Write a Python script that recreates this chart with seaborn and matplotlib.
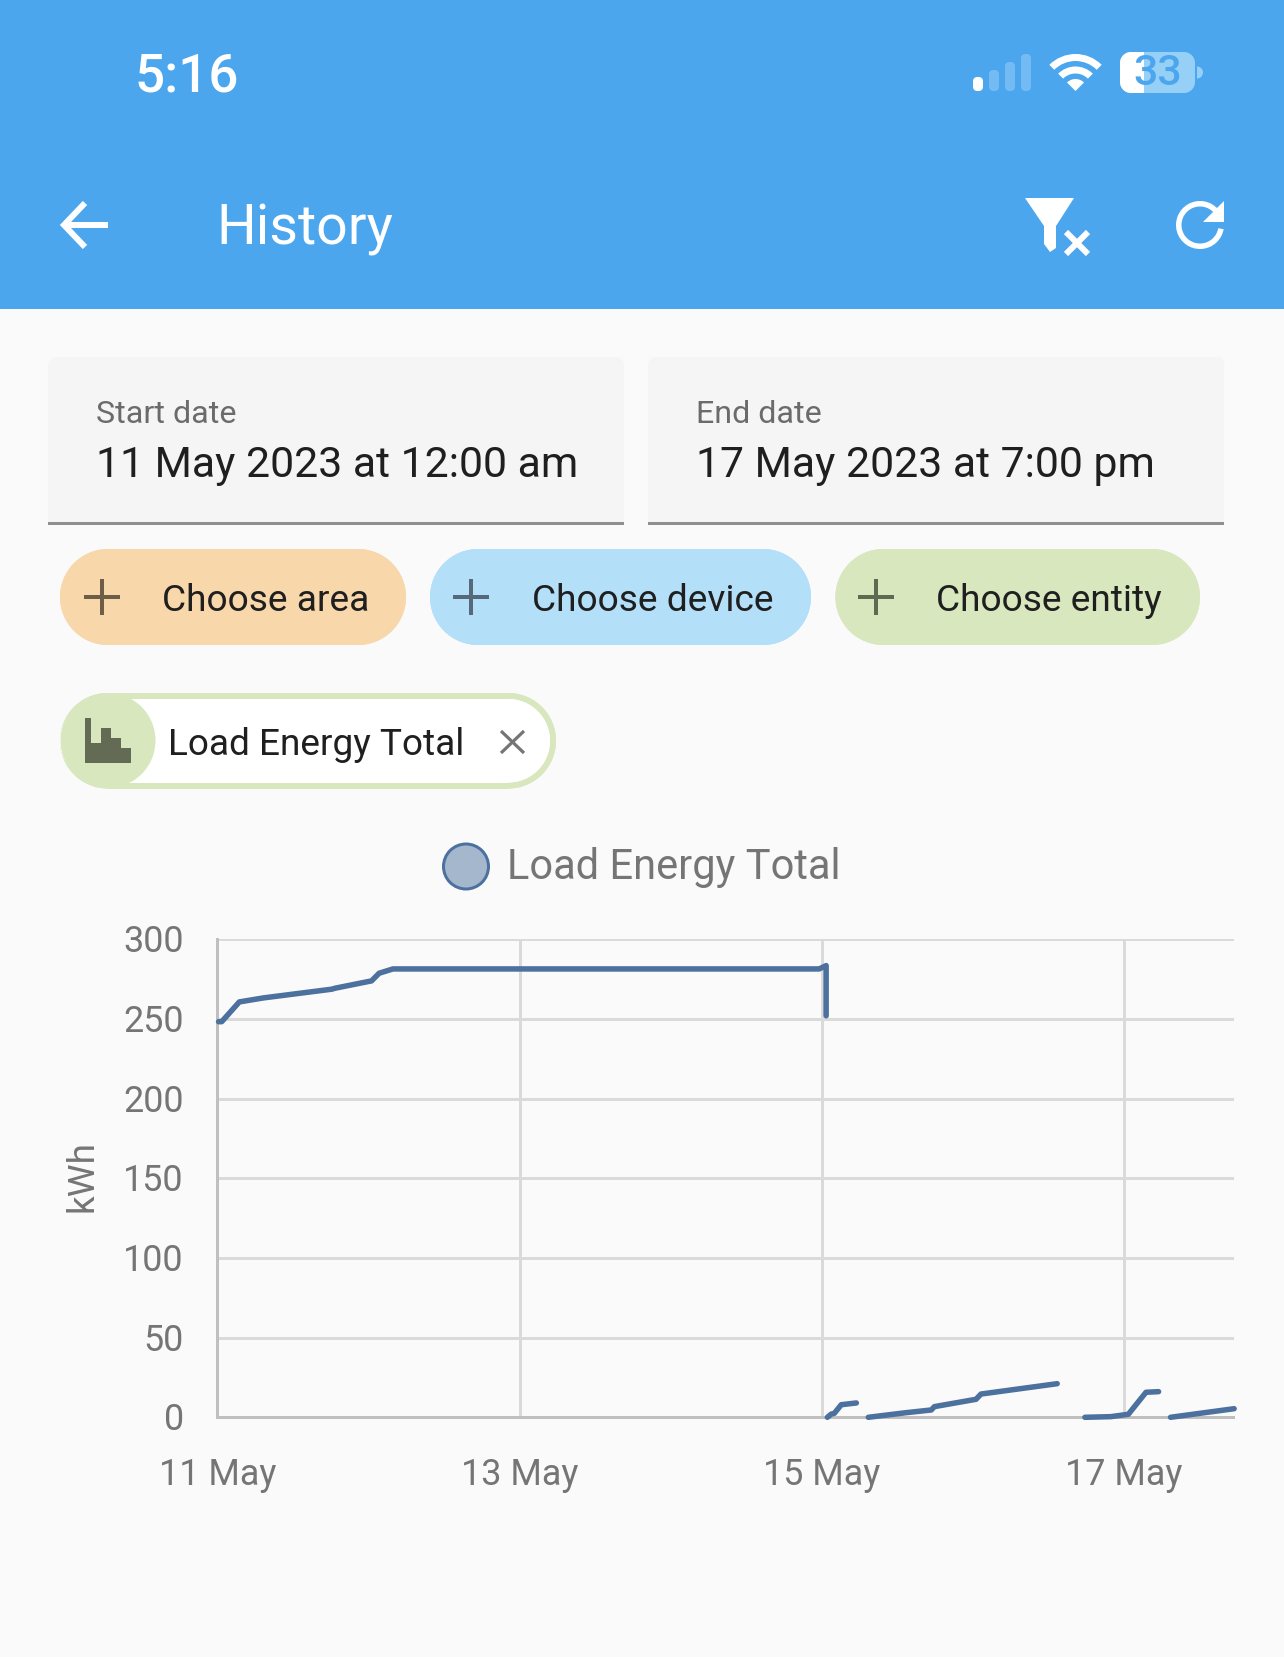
import matplotlib
matplotlib.use("Agg")
import matplotlib.pyplot as plt
from matplotlib.patches import Rectangle, Circle, Wedge, Polygon
from matplotlib.transforms import ScaledTranslation
import pandas as pd
import seaborn as sns

# ---- data ----
series_name = "Load Energy Total"
seg1_hours = [0.2, 0.7, 3.5, 7.3, 18.2, 18.7, 24.5, 25.7, 27.9, 95.6, 96.7, 96.7]
seg1_kwh = [248.3, 248.3, 260.7, 263.2, 268.7, 269.3, 273.9, 278.7, 281.4, 281.4, 283.5, 252.0]
seg2_hours = [96.9, 97.5, 98.0, 99.1, 101.5]
seg2_kwh = [0.0, 2.0, 2.5, 7.9, 9.0]
seg3_hours = [103.4, 109.4, 113.4, 113.9, 120.5, 121.3, 133.4]
seg3_kwh = [0.0, 2.9, 4.6, 6.7, 11.3, 14.6, 21.1]
seg4_hours = [137.8, 141.9, 144.7, 147.5, 149.5]
seg4_kwh = [0.0, 0.4, 1.9, 15.7, 16.1]
seg5_hours = [151.4, 161.5]
seg5_kwh = [0.0, 5.4]
y_ticks = [0, 50, 100, 150, 200, 250, 300]
x_tick_dates = ["2023-05-11", "2023-05-13", "2023-05-15", "2023-05-17"]
x_tick_labels = ["11 May", "13 May", "15 May", "17 May"]
axis_end_hours = 161.4

W, H = 1284, 1657
sns.set_theme(style="whitegrid")
plt.rcParams["font.family"] = ["Roboto", "DejaVu Sans"]

BG = "#FAFAFA"; HEAD = "#4CA6EE"; GRID = "#DADADA"; AXIS = "#BFBFBF"; LABEL = "#757575"; LINE = "#4C719E"
PX = 0.72

fig = plt.figure(figsize=(W / 100, H / 100), dpi=100, facecolor=BG)
ui = fig.add_axes([0, 0, 1, 1], zorder=0)
ui.set_xlim(0, W); ui.set_ylim(H, 0); ui.axis("off")


def T(x, y, s, px, color, ha="left", va="baseline", weight="normal"):
    ui.text(x, y, s, fontsize=px * PX, color=color, ha=ha, va=va, fontweight=weight, zorder=4)


def L(xs, ys, px, color, cap="butt", join="miter"):
    ui.plot(xs, ys, lw=px * PX, color=color, solid_capstyle=cap, solid_joinstyle=join, zorder=4)


def pill(x0, y0, x1, y1, color, r=None, z=1):
    r = (y1 - y0) / 2 if r is None else r
    ui.add_patch(Rectangle((x0 + r, y0), x1 - x0 - 2 * r, y1 - y0, fc=color, ec="none", zorder=z))
    ui.add_patch(Rectangle((x0, y0 + r), x1 - x0, y1 - y0 - 2 * r, fc=color, ec="none", zorder=z))
    for cx in (x0 + r, x1 - r):
        for cy in (y0 + r, y1 - r):
            ui.add_patch(Circle((cx, cy), r, fc=color, ec="none", zorder=z))


# header
ui.add_patch(Rectangle((0, 0), W, 309, fc=HEAD, ec="none"))
T(135, 92, "5:16", 53, "white", weight="medium")
T(216.5, 244, "History", 55.5, "white")
L([108, 65], [225, 225], 6, "white")
L([85, 64, 85], [203, 225, 247], 6, "white")
# funnel + x
ui.add_patch(Polygon([(1025, 198), (1074, 198), (1056, 226), (1056, 248), (1050, 252), (1044, 244), (1044, 226)],
                     fc="white", ec="none", zorder=4))
L([1066, 1088], [232, 254], 6, "white")
L([1088, 1066], [232, 254], 6, "white")
# refresh
ui.add_patch(Wedge((1200, 225), 24, 10, 318, width=5.5, fc="white", ec="none", zorder=4))
ui.add_patch(Polygon([(1224, 201), (1224, 222), (1203, 222)], fc="white", ec="none", zorder=4))
# status bar
for x0, top, col in [(973, 77, "white"), (989, 70, "#74BAF3"), (1005, 62, "#74BAF3"), (1021, 54, "#74BAF3")]:
    pill(x0, top, x0 + 10, 91, col, r=4)
for ro, wd in [(37, 7), (24.5, 7), (12, 12)]:
    ui.add_patch(Wedge((1075.5, 91), ro, 225, 315, width=wd, fc="white", ec="none", zorder=4))
pill(1120, 52, 1195, 93, "#97D0F6", r=11)
pill(1120, 52, 1160, 93, "white", r=11, z=1.1)
ui.add_patch(Rectangle((1144, 52), 30, 41, fc="#97D0F6", ec="none", zorder=1.2))
ui.add_patch(Wedge((1197, 72.5), 6, 270, 90, fc="#97D0F6", ec="none"))
ui.text(1158, 85, "33", fontsize=43 * PX, color=HEAD, ha="center", va="baseline", fontweight="medium", zorder=3)

# date cards
for x0, x1, lab, val in [(48.3, 624, "Start date", "11 May 2023 at 12:00 am"),
                         (648, 1224.4, "End date", "17 May 2023 at 7:00 pm")]:
    pill(x0, 357, x1, 535, "#F5F5F5", r=8)
    ui.add_patch(Rectangle((x0 - 1, 522), x1 - x0 + 2, 16, fc=BG, ec="none", zorder=1.5))
    ui.add_patch(Rectangle((x0, 522), x1 - x0, 3, fc="#8F8F8F", ec="none", zorder=2))
    T(x0 + 47.8, 422.7, lab, 32.3, "#6B6B6B")
    T(x0 + 47.8, 476.7, val, 42.7, "#1F1F1F")

# choice chips
for x0, x1, col, pcol, px_, tx, s in [
    (60, 406, "#F8D7AB", "#6E5E48", 102.4, 162, "Choose area"),
    (430, 811, "#B3DFF9", "#55697A", 471, 532, "Choose device"),
    (835.4, 1200, "#D8E7BD", "#5E6B50", 876, 936, "Choose entity"),
]:
    pill(x0, 549, x1, 645, col)
    L([px_ - 18, px_ + 18], [597, 597], 4, pcol)
    L([px_, px_], [579, 615], 4, pcol)
    T(tx, 610.7, s, 37.1, "#1F1F1F")

# selected chip
pill(60, 693, 556, 788.5, "#D8E7BD")
pill(60, 699, 550, 782.5, "white", z=1.1)
ui.add_patch(Circle((108, 740.5), 47.5, fc="#D8E7BD", ec="none", zorder=1.2))
ui.add_patch(Polygon([(85.3, 763.3), (85.3, 718.3), (90.7, 718.3), (90.7, 743.3), (100.7, 743.3), (100.7, 728.3),
                      (110.7, 728.3), (110.7, 738.3), (120.7, 738.3), (120.7, 748.3), (130.7, 748.3), (130.7, 763.3)],
                     fc="#636B55", ec="none", zorder=2))
T(168, 755, series_name, 37, "#1F1F1F")
L([501, 524], [731, 753], 3.2, LABEL)
L([524, 501], [731, 753], 3.2, LABEL)

# chart legend
ui.add_patch(Circle((466, 866.5), 22.5, fc="#A5B7CD", ec=LINE, lw=3 * PX))
T(507, 879, series_name, 41.6, LABEL)

# chart
ax = fig.add_axes([217.3 / W, 1 - 1417.3 / H, (1233.5 - 217.3) / W, (1417.3 - 939.3) / H], zorder=1)
ax.set_facecolor("none")
start = pd.Timestamp("2023-05-11")
segments = [(seg1_hours, seg1_kwh), (seg2_hours, seg2_kwh), (seg3_hours, seg3_kwh),
            (seg4_hours, seg4_kwh), (seg5_hours, seg5_kwh)]
df = pd.concat([
    pd.DataFrame({"time": start + pd.to_timedelta(h, unit="h"), "kWh": v, "segment": i})
    for i, (h, v) in enumerate(segments)
], ignore_index=True)
sns.lineplot(data=df, x="time", y="kWh", units="segment", estimator=None, sort=False, ax=ax,
             color=LINE, linewidth=5.5 * PX, solid_capstyle="round", solid_joinstyle="round", clip_on=False, zorder=5)

ax.set_xlim(start, start + pd.Timedelta(hours=axis_end_hours))
ax.set_ylim(0, 300)
ax.set_yticks(y_ticks)
ax.set_xticks(pd.to_datetime(x_tick_dates))
ax.set_xticklabels(x_tick_labels)
ax.grid(True, color=GRID, lw=3 * PX)
ax.set_axisbelow(True)
for name, sp in ax.spines.items():
    sp.set_visible(name in ("left", "bottom"))
    sp.set_color(AXIS)
    sp.set_linewidth(3 * PX)
ax.tick_params(axis="both", length=23 * PX, width=3 * PX, color=GRID, labelcolor=LABEL, labelsize=36 * PX)
ax.tick_params(axis="y", pad=7.5)
ax.tick_params(axis="x", pad=12)
ax.set_xlabel("")
ax.set_ylabel("kWh", fontsize=37 * PX, color=LABEL)
ax.yaxis.set_label_coords(-0.115, 0.505)
for lbl in ax.get_yticklabels():
    lbl.set_transform(lbl.get_transform() + ScaledTranslation(0, 1 / 100, fig.dpi_scale_trans))

fig.savefig("out.png", dpi=100, facecolor=BG)
